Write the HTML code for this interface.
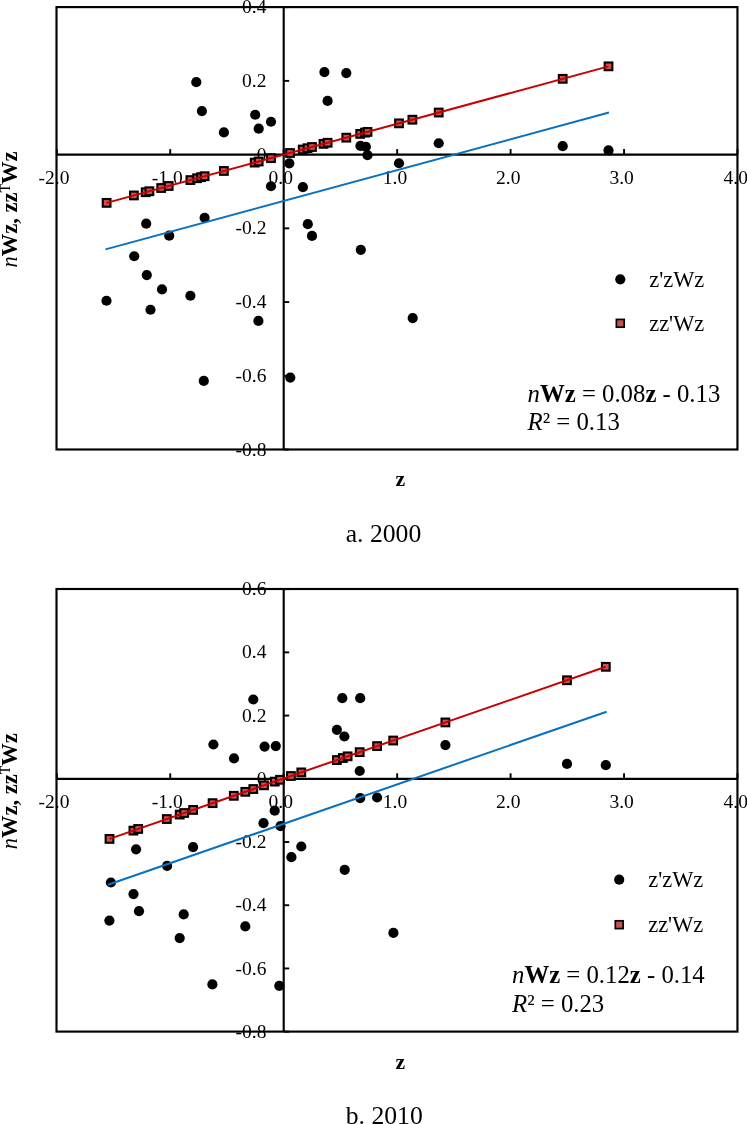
<!DOCTYPE html>
<html><head><meta charset="utf-8"><title>Moran scatterplots</title>
<style>
html,body{margin:0;padding:0;background:#fff;}
body{width:747px;height:1124px;overflow:hidden;font-family:"Liberation Serif", serif;}
svg{display:block;}
</style></head>
<body>
<svg width="747" height="1124" viewBox="0 0 747 1124">
<rect x="0" y="0" width="747" height="1124" fill="#fff"/>
<g id="chart-a">
<rect x="56.5" y="7.1" width="680.95" height="442.40" fill="none" stroke="#000" stroke-width="2.15"/>
<line x1="56.5" y1="154.6" x2="737.45" y2="154.6" stroke="#000" stroke-width="2.15"/>
<line x1="283.7" y1="7.1" x2="283.7" y2="449.5" stroke="#000" stroke-width="2.15"/>
<line x1="56.80" y1="154.6" x2="56.80" y2="149.1" stroke="#000" stroke-width="1.9"/>
<line x1="170.25" y1="154.6" x2="170.25" y2="149.1" stroke="#000" stroke-width="1.9"/>
<line x1="283.70" y1="154.6" x2="283.70" y2="149.1" stroke="#000" stroke-width="1.9"/>
<line x1="397.15" y1="154.6" x2="397.15" y2="149.1" stroke="#000" stroke-width="1.9"/>
<line x1="510.60" y1="154.6" x2="510.60" y2="149.1" stroke="#000" stroke-width="1.9"/>
<line x1="624.05" y1="154.6" x2="624.05" y2="149.1" stroke="#000" stroke-width="1.9"/>
<line x1="737.50" y1="154.6" x2="737.50" y2="149.1" stroke="#000" stroke-width="1.9"/>
<line x1="283.7" y1="7.13" x2="289.2" y2="7.13" stroke="#000" stroke-width="1.9"/>
<line x1="283.7" y1="80.87" x2="289.2" y2="80.87" stroke="#000" stroke-width="1.9"/>
<line x1="283.7" y1="154.60" x2="289.2" y2="154.60" stroke="#000" stroke-width="1.9"/>
<line x1="283.7" y1="228.33" x2="289.2" y2="228.33" stroke="#000" stroke-width="1.9"/>
<line x1="283.7" y1="302.07" x2="289.2" y2="302.07" stroke="#000" stroke-width="1.9"/>
<line x1="283.7" y1="375.80" x2="289.2" y2="375.80" stroke="#000" stroke-width="1.9"/>
<line x1="283.7" y1="449.54" x2="289.2" y2="449.54" stroke="#000" stroke-width="1.9"/>
<g font-family='"Liberation Serif", serif' font-size="19.5" fill="#000">
<text x="54.00" y="184.20" text-anchor="middle">-2.0</text>
<text x="167.25" y="184.20" text-anchor="middle">-1.0</text>
<text x="280.80" y="184.20" text-anchor="middle">0.0</text>
<text x="394.95" y="184.20" text-anchor="middle">1.0</text>
<text x="508.20" y="184.20" text-anchor="middle">2.0</text>
<text x="621.65" y="184.20" text-anchor="middle">3.0</text>
<text x="735.80" y="184.20" text-anchor="middle">4.0</text>
<text x="266.40" y="13.23" text-anchor="end">0.4</text>
<text x="266.40" y="86.97" text-anchor="end">0.2</text>
<text x="266.40" y="160.70" text-anchor="end">0</text>
<text x="266.40" y="234.43" text-anchor="end">-0.2</text>
<text x="266.40" y="308.17" text-anchor="end">-0.4</text>
<text x="266.40" y="381.90" text-anchor="end">-0.6</text>
<text x="266.40" y="455.64" text-anchor="end">-0.8</text>
</g>
<circle cx="196.3" cy="82.15" r="5.1" fill="#000"/>
<circle cx="201.9" cy="111.05" r="5.1" fill="#000"/>
<circle cx="223.9" cy="132.45" r="5.1" fill="#000"/>
<circle cx="255.2" cy="114.75" r="5.1" fill="#000"/>
<circle cx="258.7" cy="128.65" r="5.1" fill="#000"/>
<circle cx="271" cy="121.75" r="5.1" fill="#000"/>
<circle cx="271" cy="186.25" r="5.1" fill="#000"/>
<circle cx="146.2" cy="223.65" r="5.1" fill="#000"/>
<circle cx="204.6" cy="217.75" r="5.1" fill="#000"/>
<circle cx="169.2" cy="235.65" r="5.1" fill="#000"/>
<circle cx="134.2" cy="256.25" r="5.1" fill="#000"/>
<circle cx="146.8" cy="275.05" r="5.1" fill="#000"/>
<circle cx="162" cy="289.45" r="5.1" fill="#000"/>
<circle cx="190.4" cy="295.75" r="5.1" fill="#000"/>
<circle cx="106.5" cy="300.75" r="5.1" fill="#000"/>
<circle cx="150.5" cy="309.75" r="5.1" fill="#000"/>
<circle cx="258.4" cy="320.95" r="5.1" fill="#000"/>
<circle cx="203.8" cy="380.95" r="5.1" fill="#000"/>
<circle cx="324.4" cy="72.05" r="5.1" fill="#000"/>
<circle cx="346.3" cy="73.05" r="5.1" fill="#000"/>
<circle cx="327.6" cy="100.95" r="5.1" fill="#000"/>
<circle cx="360.5" cy="145.95" r="5.1" fill="#000"/>
<circle cx="365.9" cy="146.75" r="5.1" fill="#000"/>
<circle cx="367.5" cy="155.15" r="5.1" fill="#000"/>
<circle cx="438.7" cy="143.25" r="5.1" fill="#000"/>
<circle cx="399" cy="163.25" r="5.1" fill="#000"/>
<circle cx="289.3" cy="163.45" r="5.1" fill="#000"/>
<circle cx="302.9" cy="187.15" r="5.1" fill="#000"/>
<circle cx="307.8" cy="224.15" r="5.1" fill="#000"/>
<circle cx="312" cy="235.95" r="5.1" fill="#000"/>
<circle cx="360.8" cy="249.85" r="5.1" fill="#000"/>
<circle cx="412.7" cy="318.05" r="5.1" fill="#000"/>
<circle cx="290.3" cy="377.55" r="5.1" fill="#000"/>
<circle cx="562.7" cy="146.15" r="5.1" fill="#000"/>
<circle cx="608.5" cy="150.45" r="5.1" fill="#000"/>
<rect x="102.75" y="199.02" width="7.7" height="7.7" fill="#d0504d" stroke="#000" stroke-width="2.1"/>
<rect x="130.05" y="191.60" width="7.7" height="7.7" fill="#d0504d" stroke="#000" stroke-width="2.1"/>
<rect x="141.85" y="188.39" width="7.7" height="7.7" fill="#d0504d" stroke="#000" stroke-width="2.1"/>
<rect x="145.55" y="187.38" width="7.7" height="7.7" fill="#d0504d" stroke="#000" stroke-width="2.1"/>
<rect x="157.35" y="184.17" width="7.7" height="7.7" fill="#d0504d" stroke="#000" stroke-width="2.1"/>
<rect x="164.85" y="182.13" width="7.7" height="7.7" fill="#d0504d" stroke="#000" stroke-width="2.1"/>
<rect x="186.55" y="176.23" width="7.7" height="7.7" fill="#d0504d" stroke="#000" stroke-width="2.1"/>
<rect x="193.25" y="174.41" width="7.7" height="7.7" fill="#d0504d" stroke="#000" stroke-width="2.1"/>
<rect x="197.25" y="173.32" width="7.7" height="7.7" fill="#d0504d" stroke="#000" stroke-width="2.1"/>
<rect x="200.75" y="172.37" width="7.7" height="7.7" fill="#d0504d" stroke="#000" stroke-width="2.1"/>
<rect x="220.05" y="167.12" width="7.7" height="7.7" fill="#d0504d" stroke="#000" stroke-width="2.1"/>
<rect x="250.85" y="158.74" width="7.7" height="7.7" fill="#d0504d" stroke="#000" stroke-width="2.1"/>
<rect x="254.85" y="157.65" width="7.7" height="7.7" fill="#d0504d" stroke="#000" stroke-width="2.1"/>
<rect x="267.15" y="154.30" width="7.7" height="7.7" fill="#d0504d" stroke="#000" stroke-width="2.1"/>
<rect x="286.15" y="149.14" width="7.7" height="7.7" fill="#d0504d" stroke="#000" stroke-width="2.1"/>
<rect x="298.85" y="145.68" width="7.7" height="7.7" fill="#d0504d" stroke="#000" stroke-width="2.1"/>
<rect x="303.65" y="144.38" width="7.7" height="7.7" fill="#d0504d" stroke="#000" stroke-width="2.1"/>
<rect x="308.15" y="143.15" width="7.7" height="7.7" fill="#d0504d" stroke="#000" stroke-width="2.1"/>
<rect x="319.65" y="140.02" width="7.7" height="7.7" fill="#d0504d" stroke="#000" stroke-width="2.1"/>
<rect x="323.75" y="138.91" width="7.7" height="7.7" fill="#d0504d" stroke="#000" stroke-width="2.1"/>
<rect x="342.45" y="133.82" width="7.7" height="7.7" fill="#d0504d" stroke="#000" stroke-width="2.1"/>
<rect x="356.35" y="130.04" width="7.7" height="7.7" fill="#d0504d" stroke="#000" stroke-width="2.1"/>
<rect x="361.15" y="128.74" width="7.7" height="7.7" fill="#d0504d" stroke="#000" stroke-width="2.1"/>
<rect x="363.65" y="128.06" width="7.7" height="7.7" fill="#d0504d" stroke="#000" stroke-width="2.1"/>
<rect x="395.15" y="119.49" width="7.7" height="7.7" fill="#d0504d" stroke="#000" stroke-width="2.1"/>
<rect x="408.55" y="115.84" width="7.7" height="7.7" fill="#d0504d" stroke="#000" stroke-width="2.1"/>
<rect x="434.85" y="108.69" width="7.7" height="7.7" fill="#d0504d" stroke="#000" stroke-width="2.1"/>
<rect x="558.85" y="74.96" width="7.7" height="7.7" fill="#d0504d" stroke="#000" stroke-width="2.1"/>
<rect x="604.65" y="62.50" width="7.7" height="7.7" fill="#d0504d" stroke="#000" stroke-width="2.1"/>
<line x1="105.5" y1="249.4" x2="609" y2="112.5" stroke="#0a70c0" stroke-width="2.0"/>
<line x1="106.6" y1="202.87" x2="608.5" y2="66.35" stroke="#c80000" stroke-width="2.0"/>
<circle cx="620.3" cy="279.3" r="5.1" fill="#000"/>
<rect x="616.4" y="319.40000000000003" width="7.8" height="7.8" fill="#c8504d" stroke="#000" stroke-width="1.7"/>
<g font-family='"Liberation Serif", serif' font-size="22.45" fill="#000">
<text x="649.2" y="286.7">z'zWz</text>
<text x="649.2" y="330.7">zz'Wz</text>
</g>
<g font-family='"Liberation Serif", serif' font-size="24.75" fill="#000">
<text x="527.6" y="402.0"><tspan font-style="italic">n</tspan><tspan font-weight="bold">Wz</tspan> = 0.08<tspan font-weight="bold">z</tspan> - 0.13</text>
<text x="527.6" y="430.2"><tspan font-style="italic">R</tspan>² = 0.13</text>
</g>
<text x="400.3" y="486.3" font-family='"Liberation Serif", serif' font-size="21.7" font-weight="bold" text-anchor="middle">z</text>
<text transform="translate(16.7,209.6) rotate(-90)" font-family='"Liberation Serif", serif' font-size="22.5" font-weight="bold" text-anchor="middle"><tspan font-style="italic" font-weight="normal">n</tspan>Wz, zz<tspan font-weight="normal" font-size="13.9" dy="-7.0">T</tspan><tspan dy="7.0">Wz</tspan></text>
<text x="345.7" y="541.5" font-family='"Liberation Serif", serif' font-size="25.7">a. 2000</text>
</g>
<g id="chart-b">
<rect x="56.5" y="589.0" width="680.95" height="442.60" fill="none" stroke="#000" stroke-width="2.15"/>
<line x1="56.5" y1="778.8" x2="737.45" y2="778.8" stroke="#000" stroke-width="2.15"/>
<line x1="283.7" y1="589.0" x2="283.7" y2="1031.6" stroke="#000" stroke-width="2.15"/>
<line x1="56.80" y1="778.8" x2="56.80" y2="773.3" stroke="#000" stroke-width="1.9"/>
<line x1="170.25" y1="778.8" x2="170.25" y2="773.3" stroke="#000" stroke-width="1.9"/>
<line x1="283.70" y1="778.8" x2="283.70" y2="773.3" stroke="#000" stroke-width="1.9"/>
<line x1="397.15" y1="778.8" x2="397.15" y2="773.3" stroke="#000" stroke-width="1.9"/>
<line x1="510.60" y1="778.8" x2="510.60" y2="773.3" stroke="#000" stroke-width="1.9"/>
<line x1="624.05" y1="778.8" x2="624.05" y2="773.3" stroke="#000" stroke-width="1.9"/>
<line x1="737.50" y1="778.8" x2="737.50" y2="773.3" stroke="#000" stroke-width="1.9"/>
<line x1="283.7" y1="589.14" x2="289.2" y2="589.14" stroke="#000" stroke-width="1.9"/>
<line x1="283.7" y1="652.36" x2="289.2" y2="652.36" stroke="#000" stroke-width="1.9"/>
<line x1="283.7" y1="715.58" x2="289.2" y2="715.58" stroke="#000" stroke-width="1.9"/>
<line x1="283.7" y1="778.80" x2="289.2" y2="778.80" stroke="#000" stroke-width="1.9"/>
<line x1="283.7" y1="842.02" x2="289.2" y2="842.02" stroke="#000" stroke-width="1.9"/>
<line x1="283.7" y1="905.24" x2="289.2" y2="905.24" stroke="#000" stroke-width="1.9"/>
<line x1="283.7" y1="968.46" x2="289.2" y2="968.46" stroke="#000" stroke-width="1.9"/>
<line x1="283.7" y1="1031.68" x2="289.2" y2="1031.68" stroke="#000" stroke-width="1.9"/>
<g font-family='"Liberation Serif", serif' font-size="19.5" fill="#000">
<text x="54.00" y="808.40" text-anchor="middle">-2.0</text>
<text x="167.25" y="808.40" text-anchor="middle">-1.0</text>
<text x="280.80" y="808.40" text-anchor="middle">0.0</text>
<text x="394.95" y="808.40" text-anchor="middle">1.0</text>
<text x="508.20" y="808.40" text-anchor="middle">2.0</text>
<text x="621.65" y="808.40" text-anchor="middle">3.0</text>
<text x="735.80" y="808.40" text-anchor="middle">4.0</text>
<text x="266.40" y="595.24" text-anchor="end">0.6</text>
<text x="266.40" y="658.46" text-anchor="end">0.4</text>
<text x="266.40" y="721.68" text-anchor="end">0.2</text>
<text x="266.40" y="784.90" text-anchor="end">0</text>
<text x="266.40" y="848.12" text-anchor="end">-0.2</text>
<text x="266.40" y="911.34" text-anchor="end">-0.4</text>
<text x="266.40" y="974.56" text-anchor="end">-0.6</text>
<text x="266.40" y="1037.78" text-anchor="end">-0.8</text>
</g>
<circle cx="253.3" cy="699.5" r="5.1" fill="#000"/>
<circle cx="213.4" cy="744.5" r="5.1" fill="#000"/>
<circle cx="234" cy="758.4000000000001" r="5.1" fill="#000"/>
<circle cx="264.6" cy="746.6" r="5.1" fill="#000"/>
<circle cx="275.8" cy="746.1" r="5.1" fill="#000"/>
<circle cx="274.7" cy="810.7" r="5.1" fill="#000"/>
<circle cx="263.5" cy="823.2" r="5.1" fill="#000"/>
<circle cx="280.5" cy="826.2" r="5.1" fill="#000"/>
<circle cx="136.1" cy="849.3000000000001" r="5.1" fill="#000"/>
<circle cx="193.1" cy="847.1" r="5.1" fill="#000"/>
<circle cx="167.1" cy="865.9000000000001" r="5.1" fill="#000"/>
<circle cx="110.9" cy="882.5" r="5.1" fill="#000"/>
<circle cx="133.5" cy="894.1" r="5.1" fill="#000"/>
<circle cx="139" cy="911.2" r="5.1" fill="#000"/>
<circle cx="183.7" cy="914.4000000000001" r="5.1" fill="#000"/>
<circle cx="109.4" cy="920.6" r="5.1" fill="#000"/>
<circle cx="245.3" cy="926.4000000000001" r="5.1" fill="#000"/>
<circle cx="179.7" cy="938.1" r="5.1" fill="#000"/>
<circle cx="212.4" cy="984.4000000000001" r="5.1" fill="#000"/>
<circle cx="279.3" cy="985.8000000000001" r="5.1" fill="#000"/>
<circle cx="342.3" cy="698.2" r="5.1" fill="#000"/>
<circle cx="360.2" cy="698.2" r="5.1" fill="#000"/>
<circle cx="336.9" cy="729.8000000000001" r="5.1" fill="#000"/>
<circle cx="344.4" cy="736.5" r="5.1" fill="#000"/>
<circle cx="359.7" cy="771.0" r="5.1" fill="#000"/>
<circle cx="445.4" cy="745.1" r="5.1" fill="#000"/>
<circle cx="360.2" cy="798.1" r="5.1" fill="#000"/>
<circle cx="377.1" cy="797.5" r="5.1" fill="#000"/>
<circle cx="301.3" cy="846.5" r="5.1" fill="#000"/>
<circle cx="291.4" cy="857.2" r="5.1" fill="#000"/>
<circle cx="344.7" cy="869.8000000000001" r="5.1" fill="#000"/>
<circle cx="393.4" cy="932.9000000000001" r="5.1" fill="#000"/>
<circle cx="567" cy="763.9000000000001" r="5.1" fill="#000"/>
<circle cx="605.8" cy="765.2" r="5.1" fill="#000"/>
<rect x="105.65" y="835.06" width="7.7" height="7.7" fill="#d0504d" stroke="#000" stroke-width="2.1"/>
<rect x="129.55" y="826.77" width="7.7" height="7.7" fill="#d0504d" stroke="#000" stroke-width="2.1"/>
<rect x="134.35" y="825.11" width="7.7" height="7.7" fill="#d0504d" stroke="#000" stroke-width="2.1"/>
<rect x="162.95" y="815.19" width="7.7" height="7.7" fill="#d0504d" stroke="#000" stroke-width="2.1"/>
<rect x="175.85" y="810.72" width="7.7" height="7.7" fill="#d0504d" stroke="#000" stroke-width="2.1"/>
<rect x="180.35" y="809.16" width="7.7" height="7.7" fill="#d0504d" stroke="#000" stroke-width="2.1"/>
<rect x="189.25" y="806.07" width="7.7" height="7.7" fill="#d0504d" stroke="#000" stroke-width="2.1"/>
<rect x="208.75" y="799.31" width="7.7" height="7.7" fill="#d0504d" stroke="#000" stroke-width="2.1"/>
<rect x="229.95" y="791.96" width="7.7" height="7.7" fill="#d0504d" stroke="#000" stroke-width="2.1"/>
<rect x="241.45" y="787.97" width="7.7" height="7.7" fill="#d0504d" stroke="#000" stroke-width="2.1"/>
<rect x="249.45" y="785.19" width="7.7" height="7.7" fill="#d0504d" stroke="#000" stroke-width="2.1"/>
<rect x="260.15" y="781.48" width="7.7" height="7.7" fill="#d0504d" stroke="#000" stroke-width="2.1"/>
<rect x="270.85" y="777.77" width="7.7" height="7.7" fill="#d0504d" stroke="#000" stroke-width="2.1"/>
<rect x="276.15" y="775.93" width="7.7" height="7.7" fill="#d0504d" stroke="#000" stroke-width="2.1"/>
<rect x="287.05" y="772.15" width="7.7" height="7.7" fill="#d0504d" stroke="#000" stroke-width="2.1"/>
<rect x="297.45" y="768.55" width="7.7" height="7.7" fill="#d0504d" stroke="#000" stroke-width="2.1"/>
<rect x="333.05" y="756.20" width="7.7" height="7.7" fill="#d0504d" stroke="#000" stroke-width="2.1"/>
<rect x="338.95" y="754.15" width="7.7" height="7.7" fill="#d0504d" stroke="#000" stroke-width="2.1"/>
<rect x="343.75" y="752.49" width="7.7" height="7.7" fill="#d0504d" stroke="#000" stroke-width="2.1"/>
<rect x="355.85" y="748.29" width="7.7" height="7.7" fill="#d0504d" stroke="#000" stroke-width="2.1"/>
<rect x="373.25" y="742.26" width="7.7" height="7.7" fill="#d0504d" stroke="#000" stroke-width="2.1"/>
<rect x="389.35" y="736.68" width="7.7" height="7.7" fill="#d0504d" stroke="#000" stroke-width="2.1"/>
<rect x="441.55" y="718.57" width="7.7" height="7.7" fill="#d0504d" stroke="#000" stroke-width="2.1"/>
<rect x="563.15" y="676.40" width="7.7" height="7.7" fill="#d0504d" stroke="#000" stroke-width="2.1"/>
<rect x="601.95" y="662.95" width="7.7" height="7.7" fill="#d0504d" stroke="#000" stroke-width="2.1"/>
<line x1="107.95" y1="884.8" x2="606.6" y2="711.7" stroke="#0a70c0" stroke-width="2.0"/>
<line x1="109.5" y1="838.91" x2="605.8" y2="666.80" stroke="#c80000" stroke-width="2.0"/>
<circle cx="619.2" cy="879.7" r="5.1" fill="#000"/>
<rect x="615.3000000000001" y="920.8000000000001" width="7.8" height="7.8" fill="#c8504d" stroke="#000" stroke-width="1.7"/>
<g font-family='"Liberation Serif", serif' font-size="22.45" fill="#000">
<text x="648.2" y="887.1">z'zWz</text>
<text x="648.2" y="932.1">zz'Wz</text>
</g>
<g font-family='"Liberation Serif", serif' font-size="24.75" fill="#000">
<text x="512.0" y="983.4"><tspan font-style="italic">n</tspan><tspan font-weight="bold">Wz</tspan> = 0.12<tspan font-weight="bold">z</tspan> - 0.14</text>
<text x="512.0" y="1012.2"><tspan font-style="italic">R</tspan>² = 0.23</text>
</g>
<text x="400.3" y="1068.8" font-family='"Liberation Serif", serif' font-size="21.7" font-weight="bold" text-anchor="middle">z</text>
<text transform="translate(16.7,791.3) rotate(-90)" font-family='"Liberation Serif", serif' font-size="22.5" font-weight="bold" text-anchor="middle"><tspan font-style="italic" font-weight="normal">n</tspan>Wz, zz<tspan font-weight="normal" font-size="13.9" dy="-7.0">T</tspan><tspan dy="7.0">Wz</tspan></text>
<text x="345.7" y="1123.6" font-family='"Liberation Serif", serif' font-size="25.7">b. 2010</text>
</g>
</svg>
</body></html>
